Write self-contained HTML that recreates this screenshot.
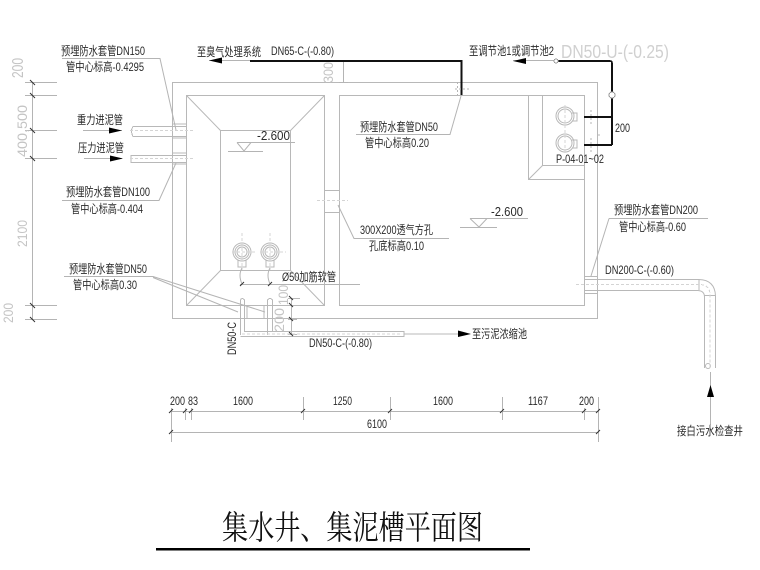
<!DOCTYPE html>
<html><head><meta charset="utf-8"><style>
html,body{margin:0;padding:0;background:#fff}
svg{display:block}
text{font-family:"Liberation Sans","Noto Sans CJK SC",sans-serif;font-size:12px;fill:#2a2a2a}
.g{fill:#c4c4c4;font-size:14px}
.l{stroke:#b8b8b8;stroke-width:1;fill:none}
.d{stroke:#b4b4b4;stroke-width:1;fill:none}
.da{stroke:#d4d4d4;stroke-width:1;fill:none;stroke-dasharray:3 2}
.t{stroke:#444;stroke-width:1;fill:none}
.b{stroke:#111;stroke-width:1.6;fill:none}
</style></head><body>
<svg width="760" height="570" viewBox="0 0 760 570" xmlns="http://www.w3.org/2000/svg" shape-rendering="crispEdges">
<!-- walls -->
<g class="l">
<rect x="172.5" y="82.5" width="425" height="236"/>
<rect x="186.5" y="95.5" width="138" height="210"/>
<rect x="339.5" y="95.5" width="245" height="210"/>
<rect x="220.5" y="130.5" width="70" height="140"/>
<path d="M528.5 95.5V179.5H584M542.5 95.5V165.5H584M325 190.5H339M325 212.5H339"/>
<g shape-rendering="auto"><path d="M186.5 95.5L220.5 130.5M324.5 95.5L290.5 130.5M186.5 305.5L220.5 270.5M324.5 305.5L290.5 270.5M528.5 179.5L542.5 165.5"/></g>
</g>
<path class="da" d="M317 200.5H348"/>
<!-- left dimensions -->
<g class="d">
<path d="M32.5 82V319M25 82.5H57M25 95.5H57M25 130.5H57M25 158.5H57M25 305.5H57M25 319.5H57"/>
<path d="M30 80l5 5M30 93l5 5M30 128l5 5M30 156l5 5M30 303l5 5M30 317l5 5" stroke="#333" shape-rendering="auto"/>
</g>
<g>
<text class="g" style="font-size:16px" transform="translate(23,78) rotate(-90)" textLength="20" lengthAdjust="spacingAndGlyphs">200</text>
<text class="g" transform="translate(27,157) rotate(-90)" textLength="52" lengthAdjust="spacingAndGlyphs">400,500</text>
<text class="g" transform="translate(27,247) rotate(-90)" textLength="27" lengthAdjust="spacingAndGlyphs">2100</text>
<text class="g" transform="translate(13,323) rotate(-90)" textLength="20" lengthAdjust="spacingAndGlyphs">200</text>
</g>
<!-- left inlet pipes -->
<g class="l">
<path d="M186 126.5H133Q130 131 133 136.5H186M186 155.5H131V162.5H186M172 124H186M172 153H186M172 138H186M172 164H186"/>
</g>
<path class="da" d="M130 130.5H193M130 158.5H193"/>
<path class="d" d="M83 130.5H122M84 158.5H122"/>
<path d="M109 127.5L122 130.5L109 133.5ZM110 155.5L123 158.5L110 161.5Z" fill="#000" shape-rendering="auto"/>
<text x="77" y="124" textLength="46" lengthAdjust="spacingAndGlyphs">重力进泥管</text>
<text x="78" y="152" textLength="46" lengthAdjust="spacingAndGlyphs">压力进泥管</text>
<!-- leaders -->
<g class="d" shape-rendering="auto">
<path d="M62 58.5H160L176 130"/>
<path d="M62 200.5H159L176 163"/>
<path d="M64 276.5H153L265 312M153 277.5L238 312"/>
<path d="M356 134.5H450L461 96"/>
<path d="M354 238.5H449H354L338 205"/>
<path d="M609 218.5H708M609 218.5L591 276"/>
</g>
<text x="61" y="55" textLength="84" lengthAdjust="spacingAndGlyphs">预埋防水套管DN150</text>
<text x="66" y="71" textLength="78" lengthAdjust="spacingAndGlyphs">管中心标高-0.4295</text>
<text x="66" y="196" textLength="84" lengthAdjust="spacingAndGlyphs">预埋防水套管DN100</text>
<text x="71" y="213" textLength="72" lengthAdjust="spacingAndGlyphs">管中心标高-0.404</text>
<text x="69" y="273" textLength="78" lengthAdjust="spacingAndGlyphs">预埋防水套管DN50</text>
<text x="73" y="289" textLength="64" lengthAdjust="spacingAndGlyphs">管中心标高0.30</text>
<text x="360" y="131" textLength="78" lengthAdjust="spacingAndGlyphs">预埋防水套管DN50</text>
<text x="365" y="147" textLength="64" lengthAdjust="spacingAndGlyphs">管中心标高0.20</text>
<text x="360" y="234" textLength="73" lengthAdjust="spacingAndGlyphs">300X200透气方孔</text>
<text x="369" y="250" textLength="55" lengthAdjust="spacingAndGlyphs">孔底标高0.10</text>
<text x="614" y="214" textLength="84" lengthAdjust="spacingAndGlyphs">预埋防水套管DN200</text>
<text x="619" y="231" textLength="67" lengthAdjust="spacingAndGlyphs">管中心标高-0.60</text>
<text x="605" y="274" textLength="69" lengthAdjust="spacingAndGlyphs">DN200-C-(-0.60)</text>
<!-- top -->
<text x="197" y="56" textLength="64" lengthAdjust="spacingAndGlyphs">至臭气处理系统</text>
<text x="271" y="55" textLength="63" lengthAdjust="spacingAndGlyphs">DN65-C-(-0.80)</text>
<text x="469" y="55" textLength="85" lengthAdjust="spacingAndGlyphs">至调节池1或调节池2</text>
<text class="g" x="561" y="58" style="font-size:18px;fill:#d0d0d0" textLength="108" lengthAdjust="spacingAndGlyphs">DN50-U-(-0.25)</text>
<path class="d" d="M209 60.5H250M513 60.5H556M343.5 61V82M339 82.5H348"/>
<path d="M209 60.5L222 57.5V63.5ZM513 61L526 58V64Z" fill="#000" shape-rendering="auto"/>
<path class="b" d="M250 61H461.5V95"/>
<path class="b" d="M556 61H610Q612 61 612 63V145M584 117H612M584 145H612" />
<circle cx="556" cy="61" r="2" fill="#fff" stroke="#999"/>
<circle cx="612" cy="95" r="3" fill="#fff" stroke="#999"/>
<path class="d" d="M457.5 82V95M455 89H470M591 110V124M591 138V152M598 135H602" stroke-dasharray="2 2"/>
<text class="g" transform="translate(333,83) rotate(-90)" textLength="21" lengthAdjust="spacingAndGlyphs">300</text>
<text x="615" y="132" textLength="15" lengthAdjust="spacingAndGlyphs">200</text>
<text x="556" y="163" textLength="48" lengthAdjust="spacingAndGlyphs">P-04-01~02</text>
<!-- pumps right -->
<g class="l" shape-rendering="auto">
<circle cx="565" cy="116" r="9"/><circle cx="565" cy="116" r="7"/>
<circle cx="565" cy="143" r="9"/><circle cx="565" cy="143" r="7"/>
<path d="M572 113H577V121H572M572 140H577V148H572"/>
</g>
<path class="da" d="M565 105V155"/>
<!-- elevation marks -->
<g class="d" shape-rendering="auto">
<path d="M237 142.5H295M237 142.5L244 151L251 142.5M228 151.5H263"/>
<path d="M470 218.5H528M470 218.5L479 227L487 218.5M460 227.5H497"/>
</g>
<text x="257" y="140" style="font-size:13px" textLength="33" lengthAdjust="spacingAndGlyphs">-2.600</text>
<text x="491" y="216" style="font-size:13px" textLength="32" lengthAdjust="spacingAndGlyphs">-2.600</text>
<!-- pumps left -->
<g class="l" shape-rendering="auto">
<circle cx="242" cy="252" r="9"/><circle cx="242" cy="252" r="7"/><circle cx="242" cy="252" r="5"/>
<circle cx="270" cy="252" r="9"/><circle cx="270" cy="252" r="7"/><circle cx="270" cy="252" r="5"/>
<path d="M238 260V267H246V260M266 260V267H274V260"/>
</g>
<path class="da" d="M232 252H255M260 252H286M242 233V270M270 233V270"/>
<path class="d" d="M242 268Q238 275 242 284M270 268Q266 275 270 284" shape-rendering="auto"/>
<path class="d" d="M240 284.5H360"/>
<path d="M240 286l4-4M268 286l4-4" stroke="#333" fill="none" shape-rendering="auto"/>
<g class="l">
<path d="M240.5 335V300Q242 297 244.5 300V332M267.5 335V300Q270 297 272.5 300V332M240.5 336.5H404V331.5H244"/>
<path d="M404 334H458M288 298.5H300M288 305.5H297M288 319.5H297M288 334.5H297M291.5 298V335"/>
<path d="M247 305V319M264 305V319"/>
</g>
<path class="da" d="M242 334H402"/>
<path d="M289 296l4 4M289 303l4 4M289 317l4 4M289 332l4 4" stroke="#333" fill="none" shape-rendering="auto"/>
<path d="M458 330.5L471 334L458 337Z" fill="#000" shape-rendering="auto"/>
<text x="472" y="338" textLength="55" lengthAdjust="spacingAndGlyphs">至污泥浓缩池</text>
<text x="309" y="347" textLength="63" lengthAdjust="spacingAndGlyphs">DN50-C-(-0.80)</text>
<text transform="translate(236,355) rotate(-90)" textLength="33" lengthAdjust="spacingAndGlyphs">DN50-C</text>
<text x="282" y="281" textLength="54" lengthAdjust="spacingAndGlyphs">Ø50加筋软管</text>
<text class="g" transform="translate(288,305) rotate(-90)" textLength="20" lengthAdjust="spacingAndGlyphs">100</text>
<text class="g" transform="translate(284,332) rotate(-90)" textLength="24" lengthAdjust="spacingAndGlyphs">200</text>
<!-- right pipe -->
<g class="l" shape-rendering="auto">
<path d="M584 279.5H699Q715 280 715.5 296V368M584 290.5H698Q704.5 291 704.5 297V368M699 279V290M704 295.5H715.5M584 276.5H598M584 293.5H598"/>
<circle cx="708" cy="366" r="2.5"/>
</g>
<path class="da" d="M576 284.5H700Q710 285 710 295V368"/>
<path class="d" d="M710.5 372V425"/>
<path d="M710.5 385L707 397H714Z" fill="#000" shape-rendering="auto"/>
<text x="677" y="435" textLength="66" lengthAdjust="spacingAndGlyphs">接白污水检查井</text>
<!-- bottom dims -->
<g class="d">
<path d="M171 411.5H599M171 432.5H599"/>
<path d="M171.5 408V442M185.5 408V420M191.5 408V420M303.5 397V420M390.5 397V420M502.5 397V420M584.5 408V420M598.5 397V442"/>
</g>
<path d="M169 413l4-4M183 413l4-4M189 413l4-4M301 413l4-4M388 413l4-4M500 413l4-4M582 413l4-4M596 413l4-4M169 434l4-4M596 434l4-4" stroke="#333" fill="none" shape-rendering="auto"/>
<text x="170" y="405" textLength="15" lengthAdjust="spacingAndGlyphs">200</text>
<text x="188" y="405" textLength="10" lengthAdjust="spacingAndGlyphs">83</text>
<text x="233" y="405" textLength="20" lengthAdjust="spacingAndGlyphs">1600</text>
<text x="333" y="405" textLength="19" lengthAdjust="spacingAndGlyphs">1250</text>
<text x="433" y="405" textLength="20" lengthAdjust="spacingAndGlyphs">1600</text>
<text x="528" y="405" textLength="20" lengthAdjust="spacingAndGlyphs">1167</text>
<text x="579" y="405" textLength="15" lengthAdjust="spacingAndGlyphs">200</text>
<text x="367" y="428" textLength="20" lengthAdjust="spacingAndGlyphs">6100</text>
<!-- title -->
<text x="222" y="539" style="font-family:'Liberation Serif','Noto Serif CJK SC',serif;font-size:33px;fill:#111" textLength="261" lengthAdjust="spacingAndGlyphs">集水井、集泥槽平面图</text>
<rect x="156" y="548" width="374" height="2.5" fill="#000"/>
</svg>
</body></html>
